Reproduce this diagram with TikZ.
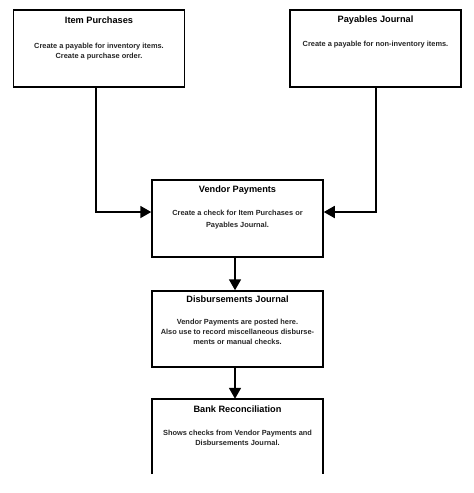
\documentclass[tikz,border=0pt]{standalone}
\usepackage{fontspec}
\setmainfont{Liberation Sans}
\usetikzlibrary{arrows.meta}
\begin{document}
\begin{tikzpicture}[x=1pt,y=-1pt,
  box/.style={draw=black,line width=1.5pt,minimum width=171pt,inner sep=0pt},
  openbox/.style={minimum width=171pt,inner sep=0pt},
  title/.style={font=\fontsize{9.2}{11}\selectfont\bfseries,inner sep=0pt},
  body/.style={font=\fontsize{7.4}{10}\selectfont\bfseries,align=center,inner sep=0pt,text=black!85},
  conn/.style={line width=1.8pt,-{Triangle[length=11pt,width=12pt]}}]
\useasboundingbox[fill=white] (0,0) rectangle (474,493);
% boxes
\node[box,minimum height=77pt] (b1) at (99,48.5) {};
\node[box,minimum height=77pt] (b2) at (375.5,48.5) {};
\node[box,minimum height=77pt] (b3) at (237.5,218.5) {};
\node[box,minimum height=76pt] (b4) at (237.5,329) {};
\node[openbox,minimum height=75pt] (b5) at (237.5,436.5) {};
\draw[line width=1.5pt] (b5.south west) -- (b5.north west) -- (b5.north east) -- (b5.south east);
% titles
\node[title] (t1) at ([yshift=-10.5pt]b1.north) {Item Purchases};
\node[title] (t2) at ([yshift=-10.5pt]b2.north) {Payables Journal};
\node[title] (t3) at ([yshift=-11pt]b3.north) {Vendor Payments};
\node[title] (t4) at ([yshift=-8.5pt]b4.north) {Disbursements Journal};
\node[title] (t5) at ([yshift=-10pt]b5.north) {Bank Reconciliation};
% bodies
\node[body] (d1) at ([yshift=-42pt]b1.north) {Create a payable for inventory items.\\Create a purchase order.};
\node[body] (d2) at ([yshift=-35pt]b2.north) {Create a payable for non-inventory items.};
\node[body,font=\fontsize{7.4}{12}\selectfont\bfseries] (d3) at ([yshift=-40pt]b3.north) {Create a check for Item Purchases or\\Payables Journal.};
\node[body] (d4) at ([yshift=-42pt]b4.north) {Vendor Payments are posted here.\\Also use to record miscellaneous disburse-\\ments or manual checks.};
\node[body] (d5) at ([yshift=-39pt]b5.north) {Shows checks from Vendor Payments and\\Disbursements Journal.};
% connectors
\draw[conn] ([xshift=-3pt]b1.south) |- ([yshift=6.5pt]b3.west);
\draw[conn] ([xshift=0.5pt]b2.south) |- ([yshift=6.5pt]b3.east);
\draw[conn] ([xshift=-2.5pt]b3.south) -- ([xshift=-2.5pt]b4.north);
\draw[conn] ([xshift=-2.5pt]b4.south) -- ([xshift=-2.5pt]b5.north);
\end{tikzpicture}
\end{document}
